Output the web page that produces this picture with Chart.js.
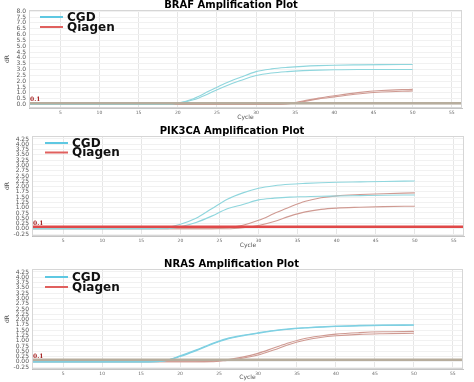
<!DOCTYPE html>
<html><head><meta charset="utf-8">
<script src="https://cdn.jsdelivr.net/npm/chart.js@4.4.1/dist/chart.umd.min.js"></script>
<style>
html,body{margin:0;padding:0;background:#fff;width:474px;height:382px;overflow:hidden}
.box{position:absolute;left:0;width:474px}
</style></head><body>
<div class="box" style="top:0;height:122px"><canvas id="c1"></canvas></div>
<div class="box" style="top:126px;height:124px"><canvas id="c2"></canvas></div>
<div class="box" style="top:259px;height:123px"><canvas id="c3"></canvas></div>
<script>
// ---- data ----
const cycles = [1, 5, 10, 14, 16, 18, 20, 22, 24, 26, 28, 30, 32, 34, 36, 38, 40, 43, 46, 50];
const seriesNames = ['CGD', 'Qiagen'];
const thresholdValue = 0.1;
const thresholdLabel = '0.1';

const brafTitle = 'BRAF Amplification Plot';
const brafCgdA = [0,0,0,0,0,0.02,0.12,0.5,1.15,1.8,2.33,2.82,3.05,3.18,3.27,3.33,3.37,3.4,3.42,3.43];
const brafCgdB = [0,0,0,0,0,0.02,0.1,0.4,0.95,1.55,2.05,2.48,2.7,2.82,2.9,2.95,2.98,3.0,3.0,3.0];
const brafQiaA = [0,0,0,0,0,0,0,0,0,0,0,0,0.02,0.08,0.3,0.55,0.75,1.02,1.2,1.3];
const brafQiaB = [0,0,0,0,0,0,0,0,0,0,0,0,0,0.05,0.25,0.48,0.65,0.9,1.07,1.17];

const pik3caTitle = 'PIK3CA Amplification Plot';
const pik3caCgdA = [0,0,0,0,0,0.05,0.22,0.5,0.95,1.4,1.7,1.92,2.04,2.11,2.15,2.18,2.2,2.22,2.24,2.26];
const pik3caCgdB = [0,0,0,0,0,0,0.1,0.3,0.6,0.95,1.15,1.37,1.45,1.5,1.52,1.54,1.55,1.57,1.59,1.6];
const pik3caQiaA = [0,0,0,0,0,0,0,0,0,0.05,0.17,0.4,0.72,1.03,1.3,1.47,1.56,1.62,1.66,1.7];
const pik3caQiaB = [0,0,0,0,0,0,0,0,0,0,0.05,0.16,0.35,0.6,0.8,0.92,0.98,1.02,1.05,1.07];

const nrasTitle = 'NRAS Amplification Plot';
const nrasCgdA = [0,0,0,0,0,0.05,0.28,0.55,0.85,1.1,1.25,1.37,1.48,1.56,1.61,1.65,1.69,1.72,1.74,1.75];
const nrasCgdB = [0,0,0,0,0,0.04,0.25,0.52,0.82,1.07,1.23,1.35,1.46,1.54,1.6,1.64,1.67,1.7,1.72,1.73];
const nrasQiaA = [0,0,0,0,0,0,0,0,0.02,0.1,0.22,0.4,0.65,0.9,1.1,1.22,1.31,1.38,1.42,1.44];
const nrasQiaB = [0,0,0,0,0,0,0,0,0,0.07,0.17,0.32,0.56,0.82,1.02,1.15,1.23,1.3,1.33,1.35];

const xMin = 1, xMax = 56.3, xStep = 5;
const xTitle = 'Cycle', yTitle = 'dR';

// ---- drawing ----
const FONT = 'DejaVu Sans';
function pts(ys){ return cycles.map((c,i)=>({x:c, y:ys[i]})); }

const extras = {
  id: 'extras',
  afterDatasetsDraw(chart, args, o) {
    const {ctx, chartArea:{left, top, right, bottom}} = chart;
    ctx.save();
    ctx.strokeStyle = '#d6d6d6'; ctx.lineWidth = 1;
    ctx.strokeRect(left + 0.5, top + 0.5, right - left - 1, bottom - top - 1);
    // threshold label
    const yT = chart.scales.y.getPixelForValue(thresholdValue);
    ctx.fillStyle = '#a82828';
    ctx.font = 'bold 6px "DejaVu Serif"';
    ctx.textAlign = 'left'; ctx.textBaseline = 'middle';
    ctx.fillText(thresholdLabel, left + 1, yT - 3.5);
    // legend
    const cols = ['#5ec8e2', '#e0605e'];
    ctx.font = 'bold 12px "' + FONT + '"';
    seriesNames.forEach((n, i) => {
      const y = top + o.ly + i * o.dy;
      ctx.strokeStyle = cols[i]; ctx.lineWidth = 2;
      ctx.beginPath(); ctx.moveTo(left + o.lx, y); ctx.lineTo(left + o.lx + 23, y); ctx.stroke();
      ctx.fillStyle = '#111';
      ctx.fillText(n, left + o.lx + 27, y + 0.5);
    });
    ctx.restore();
  }
};

function makeChart(id, cfg) {
  const ds = [
    {data: [{x:xMin, y:thresholdValue},{x:xMax, y:thresholdValue}], borderColor: cfg.thrColor, borderWidth: cfg.thrWidth},
    {data: pts(cfg.cgd[0]), borderColor: cfg.cgdColor, borderWidth: cfg.cgdWidth},
    {data: pts(cfg.cgd[1]), borderColor: cfg.cgdColor, borderWidth: cfg.cgdWidth},
    {data: pts(cfg.qia[0]), borderColor: '#cf9a92', borderWidth: 1.1},
    {data: pts(cfg.qia[1]), borderColor: '#cf9a92', borderWidth: 1.1}
  ].map(d => Object.assign({pointRadius:0, fill:false, cubicInterpolationMode:'monotone'}, d));
  return new Chart(document.getElementById(id), {
    type: 'line',
    data: {datasets: ds},
    options: {
      responsive: true, maintainAspectRatio: false, animation: false, devicePixelRatio: 1,
      layout: {padding: {left: 0, right: cfg.padR, top: 0, bottom: 0}},
      plugins: {
        legend: {display: false}, tooltip: {enabled: false},
        title: {display: true, text: cfg.title, color: '#000', font: {family: FONT, size: 10, weight: 'bold', lineHeight: 1}, padding: {top: 0, bottom: 0}},
        extras: {lx: cfg.lx, ly: cfg.ly, dy: cfg.dy}
      },
      scales: {
        x: {type: 'linear', min: xMin, max: xMax,
          afterFit: s => { s.height = cfg.xH; },
          border: {color: '#c4c4c4'},
          grid: {color: '#e6e6e6', drawTicks: false},
          ticks: {stepSize: xStep, includeBounds: false, autoSkip: false, maxRotation: 0, padding: 2, color: '#666', font: {family: FONT, size: 4.5}},
          title: {display: true, text: xTitle, color: '#555', font: {family: FONT, size: 6, lineHeight: 1.2}, padding: {top: 0, bottom: 1}}
        },
        y: {min: cfg.yMin, max: cfg.yMax,
          afterFit: s => { s.width = cfg.yW; },
          border: {color: '#bcbcbc'},
          grid: {color: '#f1f1f1', drawTicks: false},
          ticks: {stepSize: cfg.yStep, includeBounds: false, autoSkip: false, padding: 3, color: '#555', font: {family: FONT, size: 6}, callback: v => Number(v).toFixed(cfg.dec)},
          title: {display: true, text: yTitle, color: '#444', font: {family: FONT, size: 6, lineHeight: 1.2}, padding: {top: 4, bottom: 0}}
        }
      }
    },
    plugins: [extras]
  });
}

makeChart('c1', {title: brafTitle, cgd: [brafCgdA, brafCgdB], qia: [brafQiaA, brafQiaB],
  yMin: -0.3, yMax: 8.1, yStep: 0.5, dec: 1, yW: 29, xH: 14, padR: 12,
  thrColor: '#b7ad9d', thrWidth: 2.5, cgdColor: '#8fd6dd', cgdWidth: 1.1, lx: 11, ly: 7, dy: 10});
makeChart('c2', {title: pik3caTitle, cgd: [pik3caCgdA, pik3caCgdB], qia: [pik3caQiaA, pik3caQiaB],
  yMin: -0.34, yMax: 4.39, yStep: 0.25, dec: 2, yW: 32, xH: 14, padR: 10,
  thrColor: '#e04848', thrWidth: 2.5, cgdColor: '#8fd6dd', cgdWidth: 1.1, lx: 13, ly: 7, dy: 9.5});
makeChart('c3', {title: nrasTitle, cgd: [nrasCgdA, nrasCgdB], qia: [nrasQiaA, nrasQiaB],
  yMin: -0.34, yMax: 4.39, yStep: 0.25, dec: 2, yW: 32, xH: 13, padR: 11,
  thrColor: '#b7ad9d', thrWidth: 2.5, cgdColor: '#7fd0e2', cgdWidth: 1.2, lx: 13, ly: 8, dy: 10});
</script>
</body></html>
